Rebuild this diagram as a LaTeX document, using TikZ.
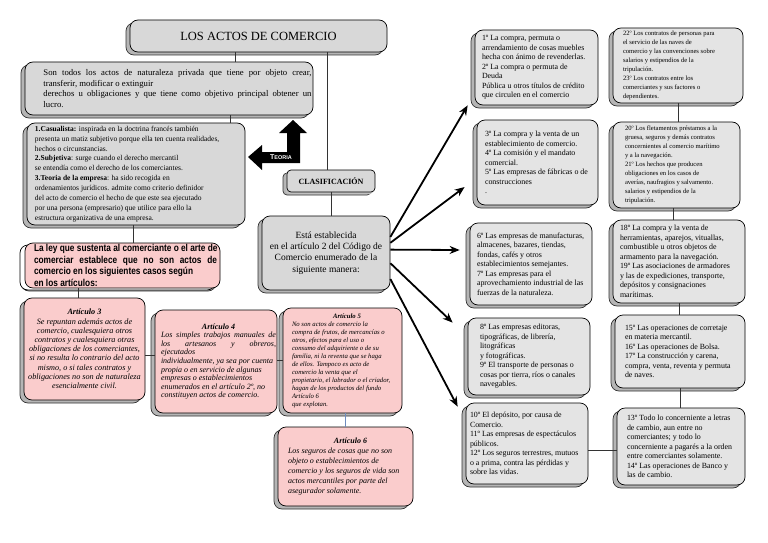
\documentclass[tikz,border=0pt]{standalone}
\usepackage{fontspec}
\setmainfont{Liberation Serif}
\newfontfamily\sansb{Liberation Sans}
\newfontfamily\lawfont[FakeStretch=0.83]{Liberation Sans}
\usetikzlibrary{shadows,arrows.meta,calc}
\definecolor{boxgray}{RGB}{216,216,216}
\definecolor{boxlight}{RGB}{228,228,228}
\definecolor{pinkc}{RGB}{250,204,204}
\definecolor{shadowgray}{RGB}{150,150,150}
\definecolor{linkblue}{RGB}{110,140,190}
\newcommand\jl[1]{\makebox[\linewidth][s]{#1}}
\newcommand\bt[3]{\hspace*{#1}\begin{minipage}{#2}\raggedright #3\end{minipage}}
\newcommand\rtx{\fontsize{7.9}{9.5}\selectfont}
\newcommand\stx{\fontsize{6.6}{8.9}\selectfont}
\begin{document}
\begin{tikzpicture}[x=1pt,y=-1pt,
  box/.style={draw=black, line width=0.7pt, rounded corners=8pt, inner sep=0pt,
    general shadow={fill=shadowgray!70, draw=black!80, shadow xshift=-4pt, shadow yshift=-3pt}},
  gbox/.style={box, fill=boxgray},
  rbox/.style={box, fill=boxlight},
  pbox/.style={box, fill=pinkc},
  conn/.style={draw=black!80, line width=0.6pt},
  bigarrow/.style={line width=1.8pt, -{Stealth[length=10pt,width=8pt]}}]
\useasboundingbox (0,0) rectangle (768,543);
\fill[white] (0,0) rectangle (768,543);

% left part
\node[gbox, minimum width=257pt, minimum height=32pt, font=\fontsize{12.5}{14}\selectfont] (title) at (258.5,36) {LOS ACTOS DE COMERCIO};

\node[gbox, minimum width=288pt, minimum height=53pt] (def) at (169,88.5)
 {\bt{17pt}{268pt}{\fontsize{8.7}{10.6}\selectfont
 \jl{Son todos los actos de naturaleza privada que tiene por objeto crear,}\\
 transferir, modificar o extinguir\\
 \jl{derechos u obligaciones y que tiene como objetivo principal obtener un}\\
 lucro.}};

\node[gbox, minimum width=218pt, minimum height=102pt] (theo) at (136,174)
 {\bt{8pt}{210pt}{\fontsize{7.5}{9.9}\selectfont
 \textbf{1.Casualista:} inspirada en la doctrina francés también\\
 presenta un matiz subjetivo porque ella ten cuenta realidades,\\
 hechos o circunstancias.\\
 \textbf{2.Subjetiva}: surge cuando el derecho mercantil\\
 se entendía como el derecho de los comerciantes.\\
 \textbf{3.Teoria de la empresa}: ha sido recogida en\\
 ordenamientos jurídicos. admite como criterio definidor\\
 del acto de comercio el hecho de que este sea ejecutado\\
 por una persona (empresario) que utilice para ello la\\
 estructura organizativa de una empresa.}};

\node[gbox, rounded corners=4pt, minimum width=88pt, minimum height=22pt,
  general shadow={fill=shadowgray!60, shadow xshift=-1.5pt, shadow yshift=-2pt},
  font=\fontsize{8}{9}\selectfont\bfseries] (clas) at (331,181) {CLASIFICACIÓN};

\node[gbox, minimum width=128pt, minimum height=74pt, align=center,
  font=\fontsize{9.5}{11.3}\selectfont] (cen) at (326,253)
 {Está establecida\\ en el artículo 2 del Código de\\ Comercio enumerado de la\\ siguiente manera:};

% TEORIA arrow
\fill[black] (293,120) -- (307,133) -- (300,133) -- (300,163) -- (262,163) -- (262,170)
  -- (248,157) -- (262,145) -- (262,152) -- (287,152) -- (287,133) -- (279,133) -- cycle;
\node[text=white, inner sep=0pt] (teoria) at (281,157.5)
 {\sansb\bfseries\fontsize{7}{7}\selectfont T\fontsize{5.5}{6}\selectfont EORIA};

% pink boxes
\node[pbox, minimum width=195pt, minimum height=45pt,
  general shadow={fill=white, draw=black, shadow xshift=-5pt, shadow yshift=-2pt}] (law) at (122.5,265.5)
 {\bt{9pt}{186pt}{\lawfont\bfseries\fontsize{10}{11.7}\selectfont
 La ley que sustenta al comerciante o el arte de\\
 \makebox[183pt][s]{comerciar establece que no son actos de}\\
 comercio en los siguientes casos según\\
 en los artículos:}};

\node[pbox, minimum width=121pt, minimum height=102pt, align=center,
  font=\fontsize{8.2}{9.2}\selectfont\itshape] (art3) at (84.5,349)
 {\textbf{Artículo 3}\\ Se repuntan además actos de\\ comercio, cualesquiera otros\\ contratos y cualesquiera otras\\ obligaciones de los comerciantes,\\ si no resulta lo contrario del acto\\ mismo, o si tales contratos y\\ obligaciones no son de naturaleza\\ esencialmente civil.};

\node[pbox, minimum width=122pt, minimum height=103pt] (art4) at (216,361.5)
 {\bt{5pt}{115pt}{\fontsize{8}{8.6}\selectfont\itshape
 {\centering\textbf{Artículo 4}\par}
 \jl{Los simples trabajos manuales de}\\
 \jl{los artesanos y obreros,}\\
 ejecutados\\
 individualmente, ya sea por cuenta\\
 propia o en servicio de algunas\\
 empresas o establecimientos\\
 enumerados en el artículo 2º, no\\
 constituyen actos de comercio.}};

\node[pbox, minimum width=119pt, minimum height=105pt] (art5) at (342.5,360.5)
 {\bt{9pt}{110pt}{\fontsize{6.7}{8.0}\selectfont\itshape
 {\centering\textbf{Artículo 5}\par}
 No son actos de comercio la\\
 compra de frutos, de mercancías o\\
 otros, efectos para el uso o\\
 consumo del adquiriente o de su\\
 familia, ni la reventa que se haga\\
 de ellos. Tampoco es acto de\\
 comercio la venta que el\\
 propietario, el labrador o el criador,\\
 hagan de los productos del fundo\\
 Artículo 6\\
 que explotan.}};

\node[pbox, minimum width=135pt, minimum height=79pt] (art6) at (345.5,466.5)
 {\bt{10pt}{125pt}{\fontsize{8}{10}\selectfont\itshape
 {\centering\textbf{Artículo 6}\par}
 Los seguros de cosas que no son\\
 objeto o establecimientos de\\
 comercio y los seguros de vida son\\
 actos mercantiles por parte del\\
 asegurador solamente.}};

% right column
\node[rbox, minimum width=123pt, minimum height=75pt] (b1) at (536.5,67.5)
 {\bt{7pt}{116pt}{\rtx
 1º La compra, permuta o\\
 arrendamiento de cosas muebles\\
 hecha con ánimo de revenderlas.\\
 2º La compra o permuta de\\
 Deuda\\
 Pública u otros títulos de crédito\\
 que circulen en el comercio}};

\node[rbox, minimum width=130pt, minimum height=75pt] (b2) at (678,65.5)
 {\bt{10pt}{120pt}{\stx
 22º Los contratos de personas para\\
 el servicio de las naves de\\
 comercio y las convenciones sobre\\
 salarios y estipendios de la\\
 tripulación.\\
 23º Los contratos entre los\\
 comerciantes y sus factores o\\
 dependientes.}};

\node[rbox, minimum width=121pt, minimum height=85pt] (b3l) at (537.5,162.5)
 {\bt{8pt}{113pt}{\rtx
 3º La compra y la venta de un\\
 establecimiento de comercio.\\
 4º La comisión y el mandato\\
 comercial.\\
 5º Las empresas de fábricas o de\\
 construcciones\\
 .}};

\node[rbox, minimum width=127pt, minimum height=86pt] (b3) at (676.5,165)
 {\bt{12pt}{115pt}{\fontsize{6.6}{9.0}\selectfont
 20º Los fletamentos préstamos a la\\
 gruesa, seguros y demás contratos\\
 concernientes al comercio marítimo\\
 y a la navegación.\\
 21º Los hechos que producen\\
 obligaciones en los casos de\\
 averías, naufragios y salvamento.\\
 salarios y estipendios de la\\
 tripulación.}};

\node[rbox, minimum width=122pt, minimum height=82pt] (b6) at (531,264)
 {\bt{7pt}{115pt}{\rtx
 6º Las empresas de manufacturas,\\
 almacenes, bazares, tiendas,\\
 fondas, cafés y otros\\
 establecimientos semejantes.\\
 7º Las empresas para el\\
 aprovechamiento industrial de las\\
 fuerzas de la naturaleza.}};

\node[rbox, minimum width=132pt, minimum height=83pt] (b18) at (679,261.5)
 {\bt{7pt}{125pt}{\rtx
 18º La compra y la venta de\\
 herramientas, aparejos, vituallas,\\
 combustible u otros objetos de\\
 armamento para la navegación.\\
 19º Las asociaciones de armadores\\
 y las de expediciones, transporte,\\
 depósitos y consignaciones\\
 marítimas.}};

\node[rbox, minimum width=122pt, minimum height=77pt] (b8) at (529,356.5)
 {\bt{12pt}{110pt}{\rtx
 8º Las empresas editoras,\\
 tipográficas, de librería,\\
 litográficas\\
 y fotográficas.\\
 9º El transporte de personas o\\
 cosas por tierra, ríos o canales\\
 navegables.}};

\node[rbox, minimum width=130pt, minimum height=73pt] (b15) at (680,351.5)
 {\bt{10pt}{120pt}{\rtx
 15º Las operaciones de corretaje\\
 en materia mercantil.\\
 16º Las operaciones de Bolsa.\\
 17º La construcción y carena,\\
 compra, venta, reventa y permuta\\
 de naves.}};

\node[rbox, minimum width=122pt, minimum height=81pt] (b10) at (527,443.5)
 {\bt{4pt}{118pt}{\rtx
 10º El depósito, por causa de\\
 Comercio.\\
 11º Las empresas de espectáculos\\
 públicos.\\
 12º Los seguros terrestres, mutuos\\
 o a prima, contra las pérdidas y\\
 sobre las vidas.}};

\node[rbox, minimum width=128pt, minimum height=77pt] (b13) at (681,446.5)
 {\bt{10pt}{118pt}{\rtx
 13º Todo lo concerniente a letras\\
 de cambio, aun entre no\\
 comerciantes; y todo lo\\
 concerniente a pagarés a la orden\\
 entre comerciantes solamente.\\
 14º Las operaciones de Banco y\\
 las de cambio.}};

% connectors
\draw[conn] ([xshift=-23.5pt]title.south) -- ([xshift=-23.5pt]title.south |- def.north);
\draw[conn] ([xshift=68.5pt]title.south) -- ([xshift=68.5pt]title.south |- clas.north);
\draw[conn] ([xshift=61pt]def.south) -- ([xshift=61pt]def.south |- theo.north);
\draw[conn] ([xshift=-3pt]theo.south) -- ([xshift=-3pt]theo.south |- law.north);
\draw[conn] ([xshift=-44.5pt]law.south) -- ([xshift=-44.5pt]law.south |- art3.north);
\coordinate (c34) at ([yshift=-6pt]art3.east);
\draw[conn] (c34) -- (c34 -| art4.west);
\coordinate (c45) at ([yshift=1.5pt]art4.east);
\draw[conn] (c45) -- (c45 -| art5.west);
\draw[conn, draw=linkblue] ([xshift=2.5pt]art5.south) -- ([xshift=2.5pt]art5.south |- art6.north);
\draw[conn] (clas.south) -- (clas.south |- cen.north);
\draw[conn] (b2.south) -- (b2.south |- b3.north);
\draw[conn] ([xshift=-3.5pt]b3.south) -- ([xshift=-3.5pt]b3.south |- b18.north);
\draw[conn] (b18.south) -- (b18.south |- b15.north);
\draw[conn] (b15.south) -- (b15.south |- b13.north);
\coordinate (c1013) at ([yshift=-6.5pt]b10.east);
\draw[conn] (c1013) -- (c1013 -| b13.west);

% big arrows
\draw[bigarrow] (cen.14) -- ([xshift=-7pt]b1.south west);
\draw[bigarrow] (cen.9) -- ([xshift=-12pt,yshift=-24.5pt]b3l.west);
\draw[bigarrow] (cen.3) -- ([xshift=-10pt,yshift=14pt]b6.west);
\draw[bigarrow] (cen.-9) -- ([xshift=-15pt,yshift=-5pt]b8.north west);
\draw[bigarrow] (cen.-22) -- ([xshift=-8pt,yshift=-4pt]b10.north west);
\end{tikzpicture}
\end{document}
